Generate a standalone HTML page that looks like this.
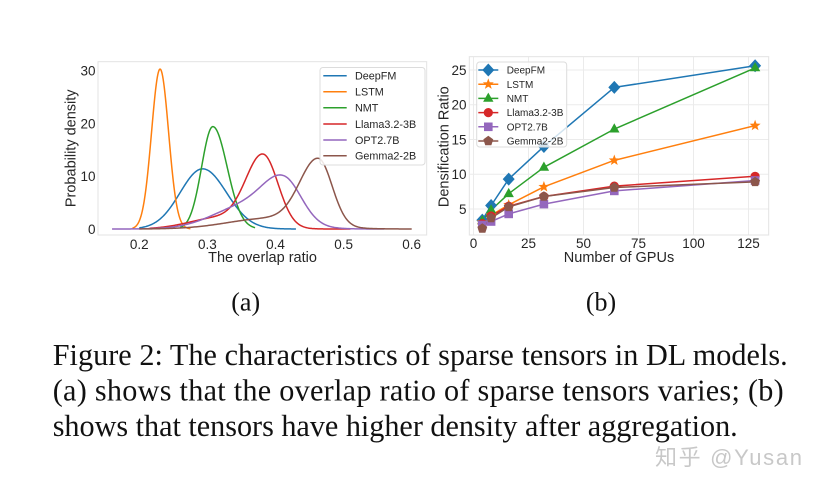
<!DOCTYPE html>
<html>
<head>
<meta charset="utf-8">
<style>
html,body{margin:0;padding:0;background:#fff;}
svg{display:block;}
.t{font-family:"Liberation Sans",Arial,sans-serif;fill:#262626;}
.s{font-family:"Liberation Serif","Times New Roman",serif;fill:#111;}
</style>
</head>
<body>
<svg id="root" width="823" height="489" viewBox="0 0 823 489" xmlns="http://www.w3.org/2000/svg">
<defs>
  <polygon id="mD" points="0,-6.5 6,0 0,6.5 -6,0" fill="#1f77b4"/>
  <polygon id="mS" points="0,-5.8 1.411,-1.942 5.516,-1.792 2.283,0.742 3.409,4.692 0,2.4 -3.409,4.692 -2.283,0.742 -5.516,-1.792 -1.411,-1.942" fill="#ff7f0e"/>
  <polygon id="mT" points="0,-5.8 5.2,3.4 -5.2,3.4" fill="#2ca02c"/>
  <circle id="mC" cx="0" cy="0" r="4.6" fill="#d62728"/>
  <rect id="mQ" x="-4.3" y="-4.3" width="8.6" height="8.6" fill="#9467bd"/>
  <polygon id="mP" points="0,-5.2 4.95,-1.6 3.06,4.2 -3.06,4.2 -4.95,-1.6" fill="#8c564b"/>
</defs>

<rect x="0" y="0" width="823" height="489" fill="#fff"/>

<!-- ========== LEFT PLOT ========== -->
<rect x="98" y="61.7" width="328.7" height="173.3" fill="#fff" stroke="#e3e3e3" stroke-width="1"/>
<g id="kde" fill="none" stroke-width="1.5" stroke-linejoin="round"></g>

<!-- left ticks -->
<g class="t" font-size="13.5" text-anchor="middle">
  <text x="139.3" y="249">0.2</text>
  <text x="207.4" y="249">0.3</text>
  <text x="275.5" y="249">0.4</text>
  <text x="343.6" y="249">0.5</text>
  <text x="411.7" y="249">0.6</text>
</g>
<g class="t" font-size="13.5" text-anchor="end">
  <text x="95.5" y="233.8">0</text>
  <text x="95.5" y="181">10</text>
  <text x="95.5" y="128.3">20</text>
  <text x="95.5" y="75.5">30</text>
</g>
<text class="t" font-size="14.5" x="262.5" y="262" text-anchor="middle">The overlap ratio</text>
<text class="t" font-size="14.5" transform="translate(75.5,148.3) rotate(-90)" text-anchor="middle">Probability density</text>

<!-- left legend -->
<rect x="320" y="67.5" width="105" height="97.5" rx="3" fill="#fff" fill-opacity="0.85" stroke="#dcdcdc" stroke-width="1"/>
<g stroke-width="1.5">
  <line x1="323.3" y1="75.7" x2="346.7" y2="75.7" stroke="#1f77b4"/>
  <line x1="323.3" y1="91.7" x2="346.7" y2="91.7" stroke="#ff7f0e"/>
  <line x1="323.3" y1="107.7" x2="346.7" y2="107.7" stroke="#2ca02c"/>
  <line x1="323.3" y1="124" x2="346.7" y2="124" stroke="#d62728"/>
  <line x1="323.3" y1="140" x2="346.7" y2="140" stroke="#9467bd"/>
  <line x1="323.3" y1="155.7" x2="346.7" y2="155.7" stroke="#8c564b"/>
</g>
<g class="t" font-size="10.8">
  <text x="355" y="79.5">DeepFM</text>
  <text x="355" y="95.5">LSTM</text>
  <text x="355" y="111.5">NMT</text>
  <text x="355" y="127.8">Llama3.2-3B</text>
  <text x="355" y="143.8">OPT2.7B</text>
  <text x="355" y="159.5">Gemma2-2B</text>
</g>

<!-- ========== RIGHT PLOT ========== -->
<rect x="469.3" y="56.7" width="299.4" height="178.3" fill="#fff"/>
<g stroke="#ebebeb" stroke-width="1">
  <line x1="473.5" y1="56.7" x2="473.5" y2="235"/>
  <line x1="528.5" y1="56.7" x2="528.5" y2="235"/>
  <line x1="583.5" y1="56.7" x2="583.5" y2="235"/>
  <line x1="638.5" y1="56.7" x2="638.5" y2="235"/>
  <line x1="693.5" y1="56.7" x2="693.5" y2="235"/>
  <line x1="748.5" y1="56.7" x2="748.5" y2="235"/>
  <line x1="469.3" y1="209" x2="768.7" y2="209"/>
  <line x1="469.3" y1="174.25" x2="768.7" y2="174.25"/>
  <line x1="469.3" y1="139.5" x2="768.7" y2="139.5"/>
  <line x1="469.3" y1="104.75" x2="768.7" y2="104.75"/>
  <line x1="469.3" y1="70" x2="768.7" y2="70"/>
</g>
<rect x="469.3" y="56.7" width="299.4" height="178.3" fill="none" stroke="#e3e3e3" stroke-width="1"/>

<g fill="none" stroke-width="1.5" stroke-linejoin="round">
  <polyline stroke="#1f77b4" points="482.3,220.1 491.1,205.5 508.7,179.1 543.9,146.45 614.3,87.4 755.1,65.8"/>
  <polyline stroke="#ff7f0e" points="482.3,222.2 491.1,215.25 508.7,204.8 543.9,186.8 614.3,160.35 755.1,125.6"/>
  <polyline stroke="#2ca02c" points="482.3,220.8 491.1,210.0 508.7,193.7 543.9,167.3 614.3,129.1 755.1,67.9"/>
  <polyline stroke="#d62728" points="482.3,223.6 491.1,216.0 508.7,206.2 543.9,196.5 614.3,186.1 755.1,176.3"/>
  <polyline stroke="#9467bd" points="482.3,225.0 491.1,221.5 508.7,213.9 543.9,204.1 614.3,190.9 755.1,180.5"/>
  <polyline stroke="#8c564b" points="482.3,228.5 491.1,218.0 508.7,206.9 543.9,196.5 614.3,187.5 755.1,181.9"/>
</g>
<g>
  <use href="#mD" x="482.3" y="220.1"/><use href="#mD" x="491.1" y="205.5"/><use href="#mD" x="508.7" y="179.1"/><use href="#mD" x="543.9" y="146.45"/><use href="#mD" x="614.3" y="87.4"/><use href="#mD" x="755.1" y="65.8"/>
  <use href="#mS" x="482.3" y="222.2"/><use href="#mS" x="491.1" y="215.25"/><use href="#mS" x="508.7" y="204.8"/><use href="#mS" x="543.9" y="186.8"/><use href="#mS" x="614.3" y="160.35"/><use href="#mS" x="755.1" y="125.6"/>
  <use href="#mT" x="482.3" y="220.8"/><use href="#mT" x="491.1" y="210.0"/><use href="#mT" x="508.7" y="193.7"/><use href="#mT" x="543.9" y="167.3"/><use href="#mT" x="614.3" y="129.1"/><use href="#mT" x="755.1" y="67.9"/>
  <use href="#mC" x="482.3" y="223.6"/><use href="#mC" x="491.1" y="216.0"/><use href="#mC" x="508.7" y="206.2"/><use href="#mC" x="543.9" y="196.5"/><use href="#mC" x="614.3" y="186.1"/><use href="#mC" x="755.1" y="176.3"/>
  <use href="#mQ" x="482.3" y="225.0"/><use href="#mQ" x="491.1" y="221.5"/><use href="#mQ" x="508.7" y="213.9"/><use href="#mQ" x="543.9" y="204.1"/><use href="#mQ" x="614.3" y="190.9"/><use href="#mQ" x="755.1" y="180.5"/>
  <use href="#mP" x="482.3" y="228.5"/><use href="#mP" x="491.1" y="218.0"/><use href="#mP" x="508.7" y="206.9"/><use href="#mP" x="543.9" y="196.5"/><use href="#mP" x="614.3" y="187.5"/><use href="#mP" x="755.1" y="181.9"/>
</g>

<!-- right ticks -->
<g class="t" font-size="13.5" text-anchor="middle">
  <text x="473.5" y="248">0</text>
  <text x="528.5" y="248">25</text>
  <text x="583.5" y="248">50</text>
  <text x="638.5" y="248">75</text>
  <text x="693.5" y="248">100</text>
  <text x="748.5" y="248">125</text>
</g>
<g class="t" font-size="13.5" text-anchor="end">
  <text x="466.5" y="213.8">5</text>
  <text x="466.5" y="179">10</text>
  <text x="466.5" y="144.3">15</text>
  <text x="466.5" y="109.5">20</text>
  <text x="466.5" y="74.8">25</text>
</g>
<text class="t" font-size="14.5" x="619" y="262" text-anchor="middle">Number of GPUs</text>
<text class="t" font-size="14.5" transform="translate(448.5,146.7) rotate(-90)" text-anchor="middle">Densification Ratio</text>

<!-- right legend -->
<rect x="476.7" y="62" width="90" height="85" rx="3" fill="#fff" fill-opacity="0.8" stroke="#dcdcdc" stroke-width="1"/>
<g stroke-width="1.5">
  <line x1="478.3" y1="70" x2="498.3" y2="70" stroke="#1f77b4"/>
  <line x1="478.3" y1="84.2" x2="498.3" y2="84.2" stroke="#ff7f0e"/>
  <line x1="478.3" y1="98.4" x2="498.3" y2="98.4" stroke="#2ca02c"/>
  <line x1="478.3" y1="112.6" x2="498.3" y2="112.6" stroke="#d62728"/>
  <line x1="478.3" y1="126.8" x2="498.3" y2="126.8" stroke="#9467bd"/>
  <line x1="478.3" y1="141" x2="498.3" y2="141" stroke="#8c564b"/>
</g>
<use href="#mD" x="488.3" y="70"/>
<use href="#mS" x="488.3" y="84.2"/>
<use href="#mT" x="488.3" y="98.4"/>
<use href="#mC" x="488.3" y="112.6"/>
<use href="#mQ" x="488.3" y="126.8"/>
<use href="#mP" x="488.3" y="141"/>
<g class="t" font-size="10">
  <text x="506.7" y="73.6">DeepFM</text>
  <text x="506.7" y="87.8">LSTM</text>
  <text x="506.7" y="102">NMT</text>
  <text x="506.7" y="116.2">Llama3.2-3B</text>
  <text x="506.7" y="130.4">OPT2.7B</text>
  <text x="506.7" y="144.6">Gemma2-2B</text>
</g>

<!-- ========== CAPTIONS ========== -->
<text class="s" font-size="26" x="245.7" y="310.7" text-anchor="middle">(a)</text>
<text class="s" font-size="26" x="601" y="310.7" text-anchor="middle">(b)</text>

<text class="s" font-size="30.2" x="52.7" y="365" textLength="735" lengthAdjust="spacing">Figure 2: The characteristics of sparse tensors in DL models.</text>
<text class="s" font-size="30.2" x="52.7" y="400.5" textLength="731" lengthAdjust="spacing">(a) shows that the overlap ratio of sparse tensors varies; (b)</text>
<text class="s" font-size="30.2" x="52.7" y="436" textLength="685" lengthAdjust="spacing">shows that tensors have higher density after aggregation.</text>

<!-- watermark -->
<text x="655" y="465" font-size="22" fill="#c8c8c8" font-family="'Liberation Sans','Noto Sans CJK SC',sans-serif" textLength="147">知乎 @Yusan</text>
</svg>

<script>
(function(){
  var X=function(v){return 139.3+(v-0.2)*681;};
  var Y=function(d){return 229-d*5.277;};
  var C=[
    ['#1f77b4',0.200,0.430,[[11.4,0.293,0.033,0.035]]],
    ['#ff7f0e',0.190,0.275,[[30.3,0.2305,0.0125,0.0125]]],
    ['#2ca02c',0.260,0.370,[[19.4,0.308,0.0165,0.021]]],
    ['#d62728',0.215,0.510,[[13.35,0.382,0.025,0.022],[2.2,0.32,0.045,0.045]]],
    ['#9467bd',0.160,0.560,[[7.5,0.413,0.03,0.0254],[4.5,0.36,0.05,0.05]]],
    ['#8c564b',0.200,0.600,[[12.45,0.463,0.027,0.0202],[2.0,0.39,0.06,0.06]]]
  ];
  var g=document.getElementById('kde');
  C.forEach(function(c){
    var d='';
    for(var i=0;i<=240;i++){
      var v=c[1]+(c[2]-c[1])*i/240, y=0;
      c[3].forEach(function(k){
        var s=v<k[1]?k[2]:k[3];
        y+=k[0]*Math.exp(-0.5*Math.pow((v-k[1])/s,2));
      });
      d+=(i?'L':'M')+X(v).toFixed(2)+','+Y(y).toFixed(2);
    }
    var p=document.createElementNS('http://www.w3.org/2000/svg','path');
    p.setAttribute('d',d);
    p.setAttribute('stroke',c[0]);
    p.setAttribute('fill','none');
    p.setAttribute('stroke-width','1.5');
    g.appendChild(p);
  });
})();
</script>
</body>
</html>
